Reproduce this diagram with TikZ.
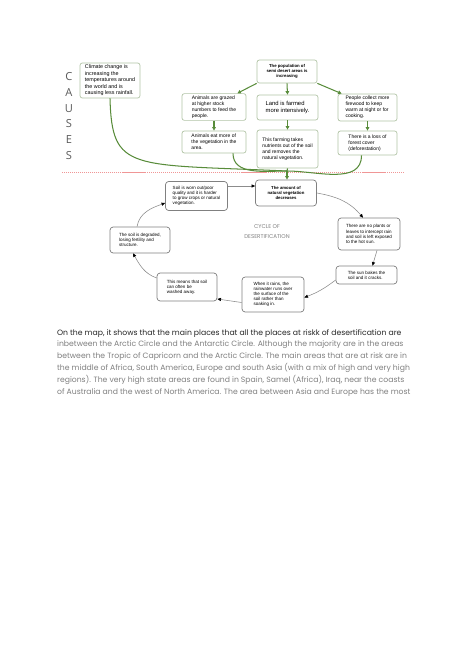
\documentclass[tikz,border=0pt]{standalone}
\usepackage{fontspec}
\setmainfont{Liberation Sans}
\newfontfamily\headfont{Open Sans}
\newfontfamily\parafont{Poppins}
\usetikzlibrary{arrows.meta}
\newlength\unitpx
\setlength\unitpx{0.443mm}
\definecolor{causegreen}{RGB}{88,140,58}
\definecolor{causeedge}{RGB}{178,196,166}
\definecolor{cycleedge}{RGB}{128,128,128}
\definecolor{sepred}{RGB}{240,150,150}
\tikzset{
  causebox/.style={draw=causeedge, line width=0.9pt, rounded corners=3pt, fill=white, inner sep=2\unitpx, align=left, font=\fontsize{6.3}{7.6}\selectfont},
  cyclebox/.style={draw=cycleedge, line width=0.9pt, rounded corners=4pt, fill=white, inner sep=2\unitpx, align=left, font=\fontsize{5.7}{6.5}\selectfont},
  greenarrow/.style={draw=causegreen, line width=1.3pt, -{Triangle[length=4.5pt,width=4.5pt]}},
  greenline/.style={draw=causegreen, line width=1.3pt},
  cyclearrow/.style={draw=gray!90, line width=0.7pt, -{Triangle[length=4.5pt,width=4pt,color=black]}},
}
\begin{document}
\begin{tikzpicture}[x=0.443mm, y=-0.443mm]
        \fill[white] (0,0) rectangle (474,669);
        \useasboundingbox (0,0) rectangle (474,669);

        \draw (69,116) node[font=\headfont\fontsize{14}{20}\selectfont, text=gray!70!black, align=center] (causes) {C\\A\\U\\S\\E\\S};
        \draw (110,80.5) node[causebox, minimum width=60\unitpx, minimum height=35\unitpx, font=\fontsize{6.8}{8.2}\selectfont] (climate) {Climate change is\\increasing the\\temperatures around\\the world and is\\causing less rainfall.};
        \draw (287,71.5) node[causebox, minimum width=60\unitpx, minimum height=23\unitpx, align=center, font=\bfseries\fontsize{5.4}{6.4}\selectfont] (pop) {The population of\\semi desert areas is\\increasing};
        \draw (214,107) node[causebox, minimum width=64\unitpx, minimum height=26\unitpx] (graze) {Animals are grazed\\at higher stock\\numbers to feed the\\people.};
        \draw (287.5,107.5) node[causebox, minimum width=61\unitpx, minimum height=25\unitpx, font=\fontsize{7.4}{8.6}\selectfont] (land) {Land is farmed\\more intensively.};
        \draw (367.5,107.5) node[causebox, minimum width=59\unitpx, minimum height=27\unitpx] (people) {People collect more\\firewood to keep\\warm at night or for\\cooking.};
        \draw (214,142) node[causebox, minimum width=64\unitpx, minimum height=22\unitpx] (eat) {Animals eat more of\\the vegetation in the\\area.};
        \draw (287.5,149) node[causebox, minimum width=61\unitpx, minimum height=38\unitpx] (farm) {This farming takes\\nutrients out of the soil\\and removes the\\natural vegetation.};
        \draw (367.5,143) node[causebox, minimum width=59\unitpx, minimum height=24\unitpx] (loss) {There is a loss of\\forest cover\\(deforestation)};

        \draw[sepred, line width=0.6pt, dash pattern=on 1.5pt off 1pt] (62,172) -- (405,172);
        \coordinate (merge) at (287,171);

        \draw[greenarrow] (pop.south west) -- ([xshift=-9\unitpx]graze.north east);
        \draw[greenarrow] (pop.south) -- (land.north);
        \draw[greenarrow] (pop.south east) -- ([xshift=4\unitpx]people.north west);
        \draw[greenarrow] (graze.south) -- (eat.north);
        \draw[greenarrow] (land.south) -- (farm.north);
        \draw[greenarrow] (people.south) -- (loss.north);
        \draw[greenline] (climate.south) .. controls (112,172) and (130,164) .. (merge);
        \draw[greenline] ([xshift=19\unitpx]eat.south) to[out=-90, in=180] (merge);
        \draw[greenline] ([xshift=-6\unitpx]loss.south) to[out=-90, in=0] (merge);
        \draw[greenline] (farm.south) -- (merge);

        \draw (286,193) node[cyclebox, minimum width=61\unitpx, minimum height=26\unitpx, align=center, font=\bfseries\fontsize{5.4}{6.4}\selectfont] (amount) {The amount of\\natural vegetation\\decreases};
        \draw (369,234) node[cyclebox, minimum width=62\unitpx, minimum height=32\unitpx] (noplant) {There are no plants or\\leaves to intercept rain\\and soil is left exposed\\to the hot sun.};
        \draw (366.5,275) node[cyclebox, minimum width=61\unitpx, minimum height=18\unitpx] (sun) {The sun bakes the\\soil and it cracks.};
        \draw (273,294.5) node[cyclebox, minimum width=62\unitpx, minimum height=35\unitpx] (rains) {When it rains, the\\rainwater runs over\\the surface of the\\soil rather than\\soaking in.};
        \draw (187,287) node[cyclebox, minimum width=60\unitpx, minimum height=28\unitpx] (means) {This means that soil\\can often be\\washed away.};
        \draw (140,240) node[cyclebox, minimum width=60\unitpx, minimum height=26\unitpx] (degraded) {The soil is degraded,\\losing fertility and\\structure.};
        \draw (196.5,196) node[cyclebox, minimum width=62\unitpx, minimum height=29\unitpx] (worn) {Soil is worn out/poor\\quality and it is harder\\to grow crops or natural\\vegetation.};
        \draw (267,232) node[font=\parafont\fontsize{7}{12.6}\selectfont, text=gray, align=center] (cycle) {CYCLE OF\\DESERTIFICATION};

        \draw[greenarrow] (merge) -- (amount.north -| merge);

        \draw[cyclearrow] ([yshift=10\unitpx]worn.east) -- ([yshift=10\unitpx]worn.east -| amount.west);
        \draw[cyclearrow] (amount.east) to[out=-10, in=130] ([xshift=-6\unitpx]noplant.north);
        \draw[cyclearrow] ([xshift=8\unitpx]noplant.south) -- ([xshift=6\unitpx]sun.north);
        \draw[cyclearrow] ([yshift=-5\unitpx]sun.west) to[bend left=8] ([yshift=-3\unitpx]rains.east);
        \draw[cyclearrow] ([yshift=-8\unitpx]rains.west) -- ([yshift=-12\unitpx]means.east);
        \draw[cyclearrow] ([yshift=9\unitpx]means.west) to[out=160, in=-60] ([xshift=-7\unitpx]degraded.south);
        \draw[cyclearrow] ([xshift=-3\unitpx]degraded.north) to[out=80, in=200] ([yshift=-7\unitpx]worn.west);

        \draw (57,329) node[anchor=north west, inner sep=0pt, align=left, font=\parafont\fontsize{9.7}{15}\selectfont] (para) {\textcolor{black!85}{On the map, it shows that the main places that all the places at riskk of desertification are}\\
        \textcolor{black!50}{inbetween the Arctic Circle and the Antarctic Circle. Although the majority are in the areas}\\
        \textcolor{black!50}{between the Tropic of Capricorn and the Arctic Circle. The main areas that are at risk are in}\\
        \textcolor{black!50}{the middle of Africa, South America, Europe and south Asia (with a mix of high and very high}\\
        \textcolor{black!50}{regions). The very high state areas are found in Spain, Samel (Africa), Iraq, near the coasts}\\
        \textcolor{black!50}{of Australia and the west of North America. The area between Asia and Europe has the most}};
\end{tikzpicture}
\end{document}
